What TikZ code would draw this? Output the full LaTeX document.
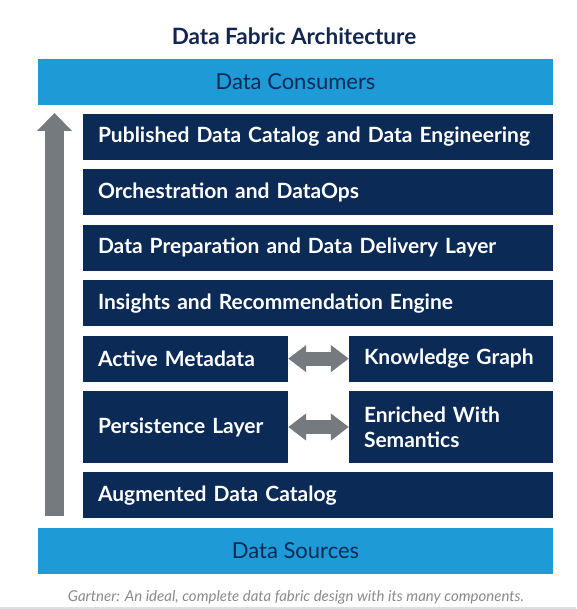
\documentclass[tikz,border=0pt]{standalone}
\usepackage{fontspec}
\setmainfont{Lato}
\usepackage{tikz}
\usetikzlibrary{positioning}
\usetikzlibrary{arrows.meta}
\usepackage{xcolor}
\definecolor{navy}{HTML}{0B2A55}
\definecolor{skyband}{HTML}{1E9BD7}
\definecolor{liftgrey}{HTML}{747A7E}
\definecolor{titlenavy}{HTML}{14264F}
\definecolor{notegrey}{HTML}{8A8A8A}

\begin{document}
\begin{tikzpicture}[
x = 1pt, y = -1pt,
  layer/.style = {fill = navy, text = white, minimum height = 46pt, inner xsep = 15pt, inner ysep = 0pt,
      text width = #1, align = left, font = \fontsize{21}{25}\selectfont\bfseries},
  band/.style = {fill = skyband, text = navy, minimum width = 515pt, minimum height = 46pt,
      font = \fontsize{22}{26}\selectfont},
  swaparrow/.style = {draw = liftgrey, line width = 14pt,
      {Triangle[width = 26pt, length = 18pt]}-{Triangle[width = 26pt, length = 18pt]}}
]
\useasboundingbox (0,0) rectangle (576,609);

\node[font = \fontsize{22.5}{26}\selectfont\bfseries, text = titlenavy] (title) at (294,36) {Data Fabric Architecture};

\node[layer = 440pt] (published) at (318,137) {Published Data Catalog and Data Engineering};
\node[layer = 440pt, below = 9pt of published] (orchestration) {Orchestration and DataOps};
\node[layer = 440pt, below = 9pt of orchestration] (preparation) {Data Preparation and Data Delivery Layer};
\node[layer = 440pt, below = 9pt of preparation] (insights) {Insights and Recommendation Engine};
\node[layer = 175pt, below = 9pt of insights.south west, anchor = north west] (metadata) {Active Metadata};
\node[layer = 174pt, below = 9pt of insights.south east, anchor = north east] (graph) {Knowledge Graph};
\node[layer = 175pt, minimum height = 72pt, below = 9pt of metadata.south west, anchor = north west] (persistence) {Persistence Layer};
\node[layer = 174pt, minimum height = 72pt, below = 9pt of graph.south east, anchor = north east] (semantics) {Enriched With\\Semantics};
\node[layer = 440pt, below = 9pt of persistence.south west, anchor = north west] (augmented) {Augmented Data Catalog};

\node[band, above = 9pt of published.north east, anchor = south east] (consumers) {Data Consumers};
\node[band, below = 9pt of augmented.south east, anchor = north east] (sources) {Data Sources};

% flow from the sources up to the consumers
\coordinate (liftfoot) at (54.5,516);
\coordinate (lifttop) at (54.5,113);
\draw[draw = liftgrey, line width = 19pt, -{Triangle[width = 34pt, length = 18pt]}] (liftfoot) -- (lifttop);

\draw[swaparrow] (metadata) -- (graph);
\draw[swaparrow] (persistence) -- (semantics);

\node[font = \fontsize{15}{18}\selectfont\itshape, text = notegrey] (note) at (296,597) {Gartner: An ideal, complete data fabric design with its many components.};
\fill[fill = gray!25] (0,607) rectangle (576,609);
\end{tikzpicture}
\end{document}
